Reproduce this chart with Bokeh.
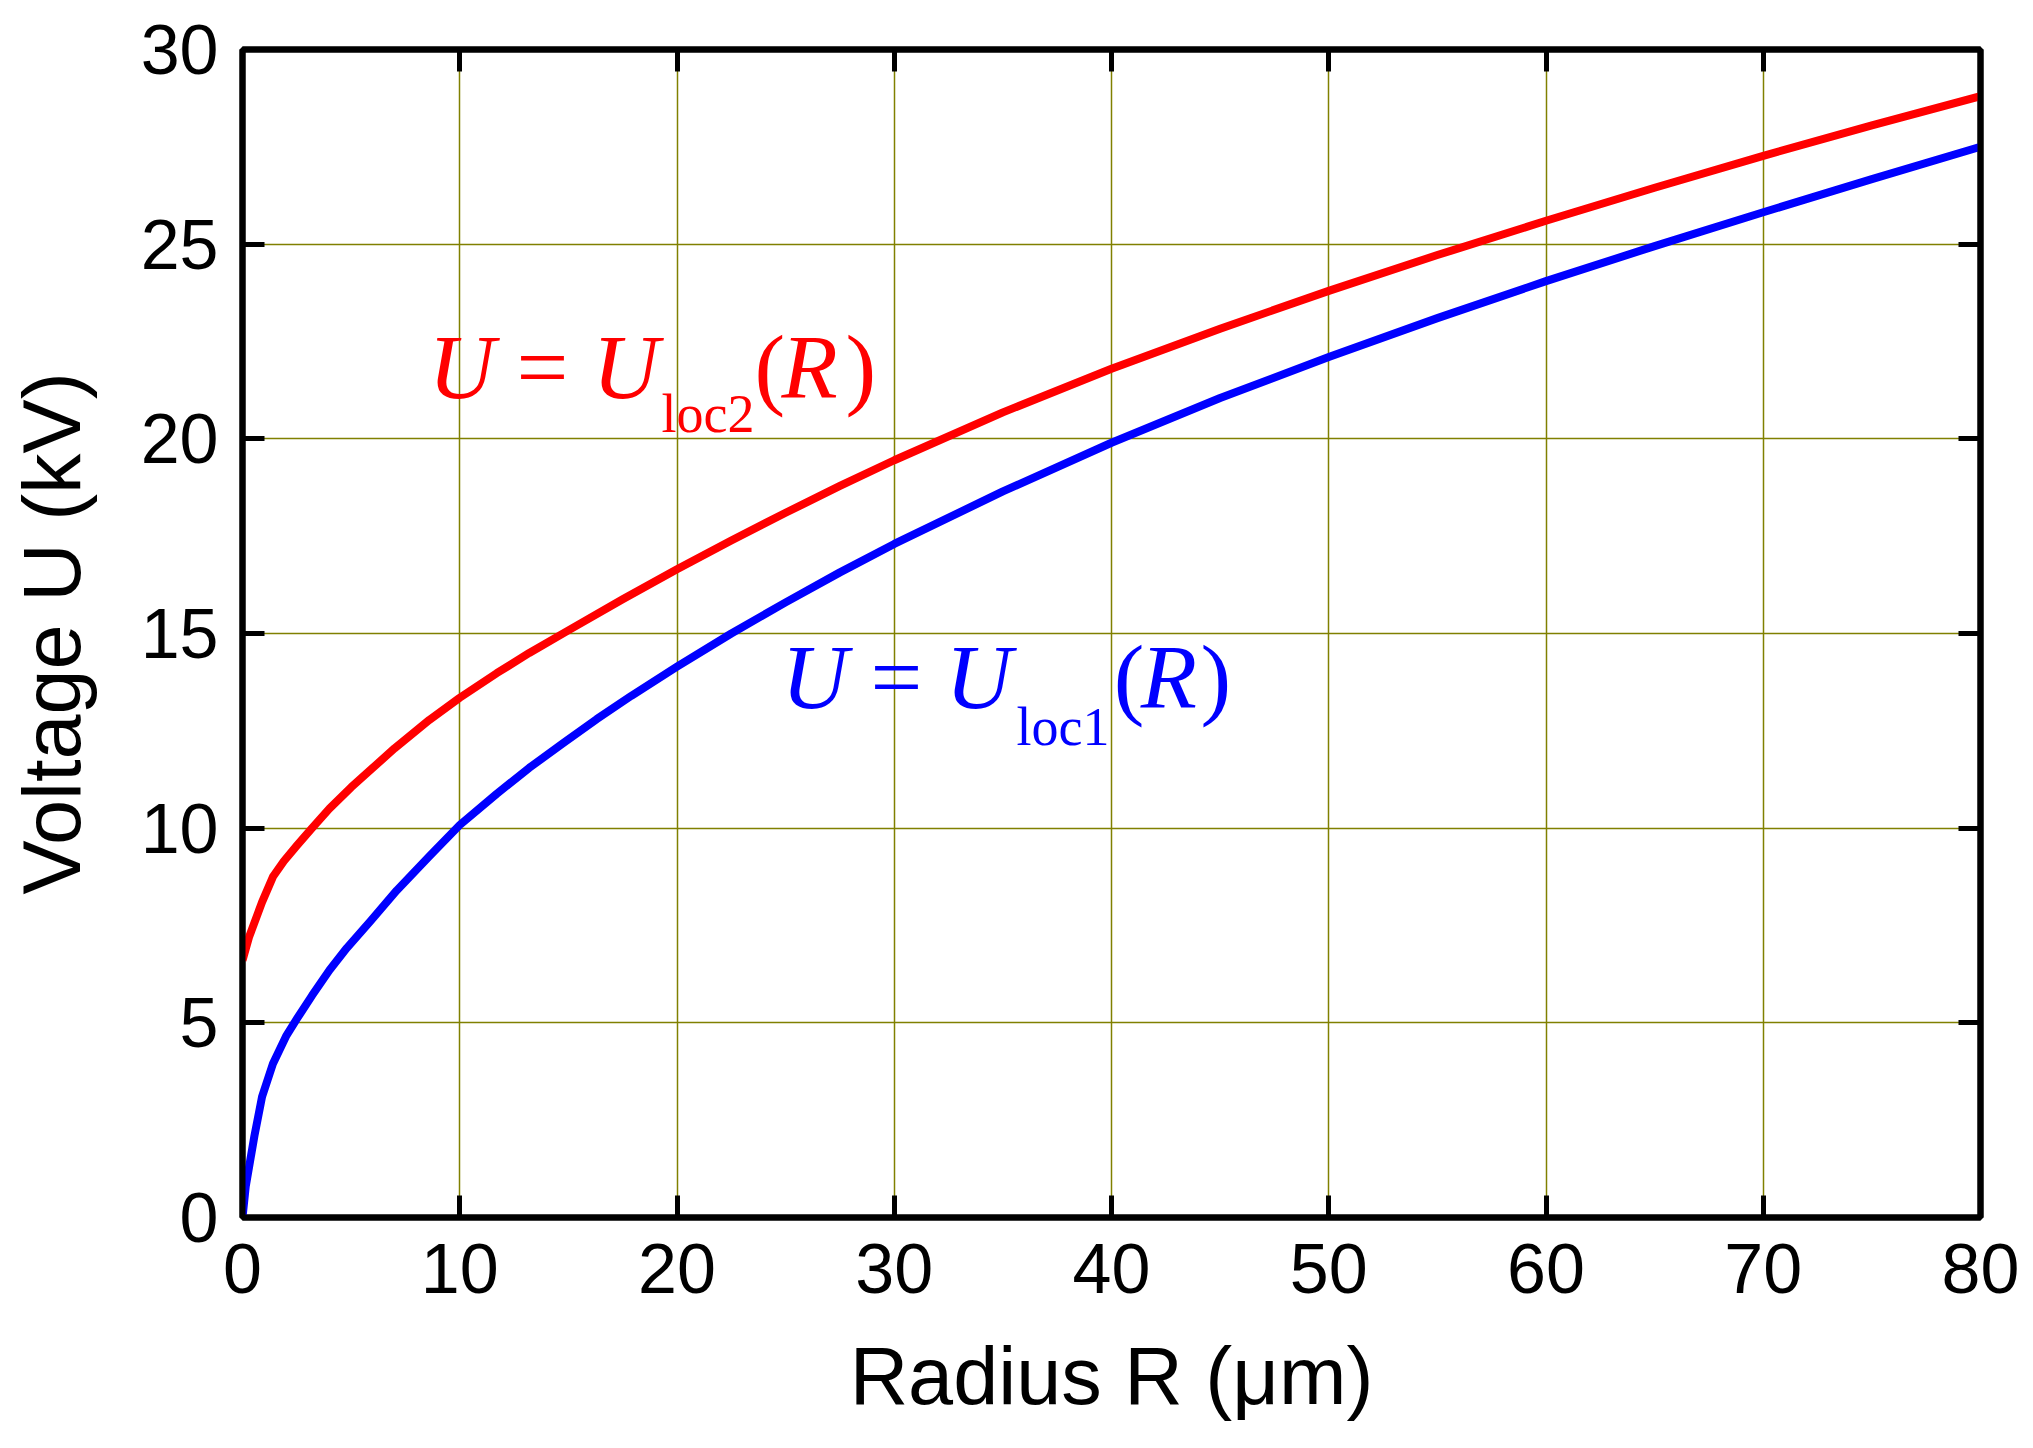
from bokeh.plotting import figure
from bokeh.models import Range1d, LinearAxis, FixedTicker, Label, CustomJSTickFormatter
from bokeh.embed import file_html
from bokeh.resources import INLINE

# ---- data ----
R_loc2 = [0, 0.3, 0.9, 1.4, 1.9, 2.5, 3.2, 4, 5, 6, 7, 8.6, 10, 11.7, 13.2, 15, 17.5,
          20, 22.5, 25, 27.5, 30, 35, 40, 45, 50, 55, 60, 65, 70, 75, 80]
U_loc2 = [6.6, 7.2, 8.1, 8.75, 9.15, 9.55, 10.0, 10.5, 11.05, 11.55, 12.05, 12.78, 13.35,
          13.98, 14.5, 15.08, 15.88, 16.65, 17.39, 18.1, 18.79, 19.45, 20.68, 21.8, 22.83,
          23.8, 24.72, 25.6, 26.45, 27.27, 28.05, 28.8]

R_loc1 = [0, 0.15, 0.55, 0.9, 1.4, 2, 2.5, 3.2, 4, 4.8, 5.9, 7.1, 8.6, 10, 11.7, 13.2,
          14.8, 16.3, 17.9, 20, 22.5, 25, 27.5, 30, 35, 40, 45, 50, 55, 60, 65, 70, 75, 80]
U_loc1 = [0, 0.8, 2.1, 3.1, 3.95, 4.65, 5.1, 5.7, 6.35, 6.92, 7.62, 8.4, 9.28, 10.08,
          10.88, 11.55, 12.2, 12.8, 13.4, 14.15, 15.0, 15.8, 16.57, 17.3, 18.65, 19.9,
          21.05, 22.1, 23.1, 24.05, 24.95, 25.82, 26.67, 27.5]

x_ticks = [0, 10, 20, 30, 40, 50, 60, 70, 80]
y_ticks = [0, 5, 10, 15, 20, 25, 30]

x_title = "Radius R (\u03bcm)"
y_title = "Voltage U (kV)"

SANS = "Liberation Sans"
SERIF = "Liberation Serif"

p = figure(frame_width=1738, frame_height=1168,
           x_range=Range1d(0, 80), y_range=Range1d(0, 30),
           output_backend="svg", toolbar_location=None,
           min_border_left=242, min_border_top=49, min_border_right=41,
           min_border_bottom=222, background_fill_color="white",
           border_fill_color="white")

p.outline_line_color = "black"
p.outline_line_width = 6

for g in (p.xgrid, p.ygrid):
    g.grid_line_color = "#808000"
    g.grid_line_width = 1.5

def style_axis(ax, ticks, show_labels):
    ax.ticker = FixedTicker(ticks=ticks)
    ax.axis_line_color = "black"
    ax.axis_line_width = 6
    ax.major_tick_in = 22
    ax.major_tick_out = 0
    ax.major_tick_line_width = 5
    ax.major_tick_line_color = "black"
    ax.minor_tick_line_color = None
    ax.major_label_text_font = SANS
    ax.major_label_text_font_size = "70px"
    ax.major_label_text_color = "black"
    ax.axis_label_text_font = SANS
    ax.axis_label_text_font_size = "81px"
    ax.axis_label_text_font_style = "normal"
    ax.axis_label_text_color = "black"
    if not show_labels:
        ax.formatter = CustomJSTickFormatter(code="return ''")
        ax.major_label_standoff = 0

style_axis(p.xaxis[0], x_ticks, True)
style_axis(p.yaxis[0], y_ticks, True)
p.xaxis[0].major_label_standoff = 26
p.yaxis[0].major_label_standoff = 24
p.xaxis[0].axis_label = x_title
p.yaxis[0].axis_label = y_title
p.xaxis[0].axis_label_standoff = 35
p.yaxis[0].axis_label_standoff = 41

top_ax = LinearAxis()
right_ax = LinearAxis()
style_axis(top_ax, x_ticks, False)
style_axis(right_ax, y_ticks, False)
p.add_layout(top_ax, "above")
p.add_layout(right_ax, "right")

p.line(R_loc2, U_loc2, line_color="#ff0000", line_width=8, line_join="round")
p.line(R_loc1, U_loc1, line_color="#0000ff", line_width=8, line_join="round")

def lab(x, y, text, size, font, style="normal", color="black"):
    p.add_layout(Label(x=x, y=y, text=text,
                       text_font=font, text_font_size=size, text_font_style=style,
                       text_color=color, text_align="left",
                       text_baseline="alphabetic"))

# formula annotations
big, small = "92px", "54px"
red, blue = "#ff0000", "#0000ff"
for x, y, t, sz, st in [(8.56, 21.84, "U", big, "italic"),
                        (12.61, 21.84, "=", big, "normal"),
                        (16.11, 21.84, "U", big, "italic"),
                        (19.29, 20.63, "loc2", small, "normal"),
                        (23.57, 21.84, "(", big, "normal"),
                        (24.81, 21.84, "R", big, "italic"),
                        (27.76, 21.84, ")", big, "normal")]:
    lab(x, y, t, sz, SERIF, st, red)

for x, y, t, sz, st in [(24.81, 13.87, "U", big, "italic"),
                        (28.91, 13.87, "=", big, "normal"),
                        (32.36, 13.87, "U", big, "italic"),
                        (35.63, 12.61, "loc1", small, "normal"),
                        (40.1, 13.87, "(", big, "normal"),
                        (41.35, 13.87, "R", big, "italic"),
                        (44.1, 13.87, ")", big, "normal")]:
    lab(x, y, t, sz, SERIF, st, blue)

open("out.html", "w").write(file_html(p, INLINE))
